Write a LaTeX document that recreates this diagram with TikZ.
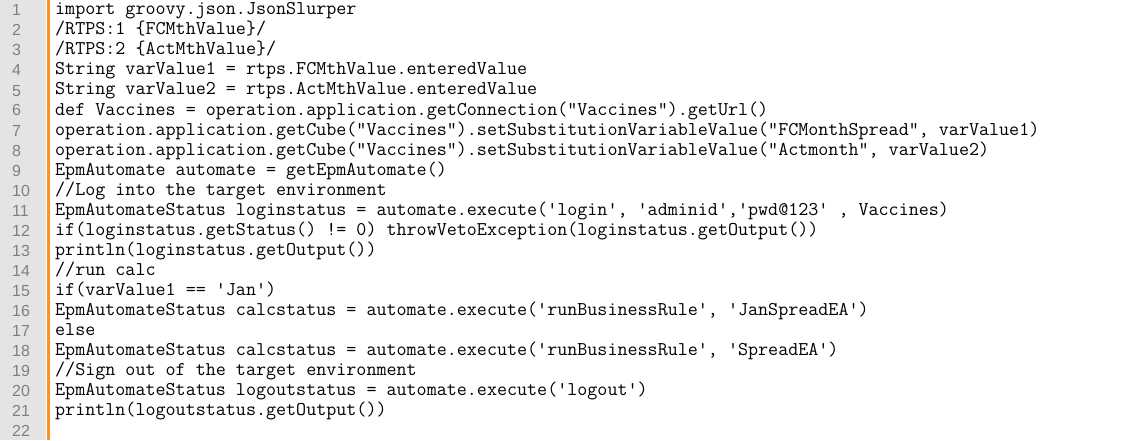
\documentclass[tikz,border=0pt]{standalone}
\usepackage{fontspec}
\newfontfamily\numfont{Liberation Sans}
\definecolor{gut}{HTML}{E4E4E4}
\definecolor{bar}{HTML}{F7931E}
\definecolor{num}{HTML}{808080}
\begin{document}
\begin{tikzpicture}[x=1pt,y=1pt,
  code/.style={anchor=base west,inner sep=0,font=\ttfamily\fontsize{19.5}{20}\selectfont,text=black},
  lnum/.style={anchor=base west,inner sep=0,font=\numfont\fontsize{16}{20}\selectfont,text=num}]
\useasboundingbox (0,0) rectangle (1123,440);
\fill[white] (0,0) rectangle (1123,440);
\fill[gut] (0,0) rectangle (46,440);
\fill[bar] (47,0) rectangle (50,440);
\foreach \n [count=\i] in {
 {import groovy.json.JsonSlurper},
 {/RTPS:1 \{FCMthValue\}/},
 {/RTPS:2 \{ActMthValue\}/},
 {String varValue1 = rtps.FCMthValue.enteredValue},
 {String varValue2 = rtps.ActMthValue.enteredValue},
 {def Vaccines = operation.application.getConnection("Vaccines").getUrl()},
 {operation.application.getCube("Vaccines").setSubstitutionVariableValue("FCMonthSpread", varValue1)},
 {operation.application.getCube("Vaccines").setSubstitutionVariableValue("Actmonth", varValue2)},
 {EpmAutomate automate = getEpmAutomate()},
 {//Log into the target environment},
 {EpmAutomateStatus loginstatus = automate.execute('login', 'adminid','pwd@123' , Vaccines)},
 {if(loginstatus.getStatus() != 0) throwVetoException(loginstatus.getOutput())},
 {println(loginstatus.getOutput())},
 {//run calc},
 {if(varValue1 == 'Jan')},
 {EpmAutomateStatus calcstatus = automate.execute('runBusinessRule', 'JanSpreadEA')},
 {else},
 {EpmAutomateStatus calcstatus = automate.execute('runBusinessRule', 'SpreadEA')},
 {//Sign out of the target environment},
 {EpmAutomateStatus logoutstatus = automate.execute('logout')},
 {println(logoutstatus.getOutput())},
 {}}
{
  \node[lnum] (n\i) at (12,{440-16-20*(\i-1)}) {\i};
  \node[code] (c\i) at (55,{440-15-20*(\i-1)}) {\n};
}
\end{tikzpicture}
\end{document}
